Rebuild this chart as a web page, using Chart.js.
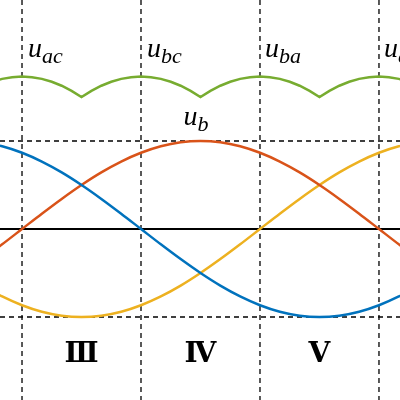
<!DOCTYPE html><html><head><script src="https://cdn.jsdelivr.net/npm/chart.js"></script>
<style>html,body{margin:0;background:#fff}#w{width:400px;height:400px}</style></head><body><div id="w"><canvas id="c"></canvas></div>
<script>
const angles=[-20,-10,0,10,20,30,40,50,60,70,80,90,100,110,120,130,140,150,160,170,180,190,200];
const ub=[-.342,-.174,0,.174,.342,.5,.643,.766,.866,.94,.985,1,.985,.94,.866,.766,.643,.5,.342,.174,0,-.174,-.342];
const ua=[.985,.94,.866,.766,.643,.5,.342,.174,0,-.174,-.342,-.5,-.643,-.766,-.866,-.94,-.985,-1,-.985,-.94,-.866,-.766,-.643];
const uc=[-.643,-.766,-.866,-.94,-.985,-1,-.985,-.94,-.866,-.766,-.643,-.5,-.342,-.174,0,.174,.342,.5,.643,.766,.866,.94,.985];
const gAngles=[-20,-15,-10,-5,0,5,10,15,20,25,30,35,40,45,50,55,60,65,70,75,80,85,90,95,100,105,110,115,120,125,130,135,140,145,150,155,160,165,170,175,180,185,190,195,200];
const uLine=[1.628,1.673,1.706,1.725,1.732,1.725,1.706,1.673,1.628,1.569,1.5,1.569,1.628,1.673,1.706,1.725,1.732,1.725,1.706,1.673,1.628,1.569,1.5,1.569,1.628,1.673,1.706,1.725,1.732,1.725,1.706,1.673,1.628,1.569,1.5,1.569,1.628,1.673,1.706,1.725,1.732,1.725,1.706,1.673,1.628];
const lineLabels=[["u","ac",0.5],["u","bc",60.5],["u","ba",120],["u","ca",180]];
const regions=[["Ⅲ",30],["Ⅳ",90],["Ⅴ",150]];
const pts=(xs,ys)=>xs.map((x,i)=>({x,y:ys[i]}));
const ds=(d,c,t)=>({data:d,borderColor:c,borderWidth:2.5,pointRadius:0,tension:t,cubicInterpolationMode:t?'monotone':'default',fill:false});
const deco={id:'deco',beforeDatasetsDraw(ch){const {ctx}=ch,x=ch.scales.x,y=ch.scales.y;ctx.save();ctx.strokeStyle='#000';ctx.lineWidth=1.3;ctx.setLineDash([5,4]);
[0,60,120,180].forEach(v=>{const p=x.getPixelForValue(v);ctx.beginPath();ctx.moveTo(p,0);ctx.lineTo(p,400);ctx.stroke();});
[1,-1].forEach(v=>{const p=y.getPixelForValue(v);ctx.beginPath();ctx.moveTo(0,p);ctx.lineTo(400,p);ctx.stroke();});
ctx.setLineDash([]);ctx.lineWidth=2.2;const z=y.getPixelForValue(0);ctx.beginPath();ctx.moveTo(0,z);ctx.lineTo(400,z);ctx.stroke();ctx.restore();},
afterDatasetsDraw(ch){const {ctx}=ch,x=ch.scales.x,y=ch.scales.y;ctx.save();ctx.fillStyle='#000';
const sub=(m,s,px,py)=>{ctx.font='italic 28px "Liberation Serif"';ctx.textAlign='left';ctx.textBaseline='alphabetic';const w=ctx.measureText(m).width;ctx.fillText(m,px,py);ctx.font='italic 22px "Liberation Serif"';ctx.fillText(s,px+w,py+6);};
lineLabels.forEach(l=>sub(l[0],l[1],x.getPixelForValue(l[2])+5,y.getPixelForValue(1.95)));
sub("u","b",x.getPixelForValue(88)-13,y.getPixelForValue(1.18));
ctx.font='bold 28px "DejaVu Serif"';ctx.textAlign='center';ctx.textBaseline='middle';
regions.forEach(r=>ctx.fillText(r[0],x.getPixelForValue(r[1]),y.getPixelForValue(-1.43)));ctx.restore();}};
new Chart(document.getElementById('c'),{type:'line',data:{datasets:[ds(pts(gAngles,uLine),'#77AC30',0),ds(pts(angles,ua),'#0072BD',0.4),ds(pts(angles,ub),'#D95319',0.4),ds(pts(angles,uc),'#EDB120',0.4)]},
options:{animation:false,responsive:true,maintainAspectRatio:false,layout:{padding:0},plugins:{legend:{display:false},tooltip:{enabled:false}},
scales:{x:{type:'linear',display:false,min:-11.1,max:190.6},y:{display:false,min:-1.943,max:2.602}}},plugins:[deco]});
</script></body></html>
